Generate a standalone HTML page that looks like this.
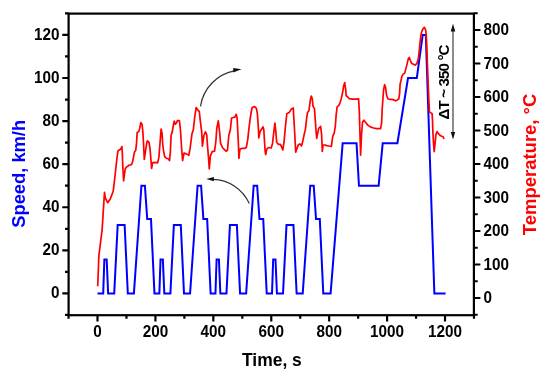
<!DOCTYPE html>
<html><head><meta charset="utf-8"><title>Speed and temperature vs time</title>
<style>
html,body{margin:0;padding:0;background:#fff;}
body{width:550px;height:380px;overflow:hidden;}
svg{display:block;}
text{font-family:"Liberation Sans",Arial,sans-serif;font-weight:bold;}
</style></head>
<body>
<svg width="550" height="380" viewBox="0 0 550 380">
<rect width="550" height="380" fill="#fff"/>
<polyline points="97.5,293.4 100.02,293.4 103.2,293.4 104.36,259.58 106.68,259.58 108.13,293.4 114.21,293.4 117.68,225.12 124.63,225.12 127.82,293.4 133.9,293.4 141.43,185.7 144.9,185.7 147.22,219.09 150.99,219.09 154.46,293.4 156.19,293.4 159.37,293.4 160.53,259.58 162.85,259.58 164.3,293.4 170.38,293.4 173.85,225.12 180.8,225.12 183.99,293.4 190.07,293.4 197.6,185.7 201.08,185.7 203.39,219.09 207.16,219.09 210.63,293.4 212.26,293.4 215.45,293.4 216.6,259.58 218.92,259.58 220.37,293.4 226.45,293.4 229.93,225.12 236.88,225.12 240.06,293.4 246.14,293.4 253.67,185.7 257.15,185.7 259.47,219.09 263.23,219.09 266.71,293.4 268.83,293.4 272.02,293.4 273.18,259.58 275.49,259.58 276.94,293.4 283.02,293.4 286.5,225.12 293.45,225.12 296.63,293.4 302.72,293.4 310.25,185.7 313.72,185.7 316.04,219.09 319.8,219.09 323.28,293.4 325.3,293.4 324.8,293.4 330.6,293.4 342.67,143.27 356.55,143.27 358.97,185.7 378.65,185.7 382.71,143.27 397.39,143.27 408.03,78 416.82,78 422.71,34.92 425.81,34.92 434.35,293.4 445.6,293.4" fill="none" stroke="#0000ff" stroke-width="2" stroke-linejoin="miter" stroke-miterlimit="3"/>
<polyline points="97.7,286.3 98.9,255.3 102.1,230 104.5,192.3 105.3,197.8 107.7,202.7 110.3,199 113.2,191.3 114.6,179.5 116.6,161 117.9,151.2 119.2,149.9 120.6,149.2 121.9,146.6 122.3,153.2 122.8,166.3 123.6,180.8 124.5,174.2 125.2,169 126.5,167 127.8,166.3 129.1,165 130.4,165 131.7,164.3 132.8,161 133.7,155.8 134.6,151.8 135.7,150.5 136.5,143.4 137.2,132.4 138.8,131.6 139.7,128.4 140.8,122.6 142.1,124.5 142.9,132.4 143.5,142.6 144.3,159.5 145.6,150.5 146.9,142 147.4,140.8 149,142.4 150.1,149.5 151,160.6 151.6,168.5 152.6,162.9 154.5,162.4 157.6,162.9 158.9,157.4 160,143.2 161.1,129 162.1,133.7 162.7,144 163.6,151.1 164.7,156.6 166.3,158.2 168.7,159 169.5,160.6 170.3,152.7 171.1,135.3 172.2,132.1 173.4,125 174.2,121.1 175.3,124.2 176.6,122.6 177.4,120.6 179.4,120.7 180.5,130.5 181.7,149.5 182.6,160.6 184,153 186.4,153.9 188.8,155.4 190.1,148.4 192,133.7 193.3,130 194.7,117.1 196.2,107.5 197.5,109.7 199.3,111.6 200.3,120.8 201.7,131.8 202.4,146.2 203.9,135.5 205.4,131.8 206.7,134.6 207.6,146.6 208.5,157.6 209.3,169 210.4,155.8 212.2,151.7 214.6,151.2 215.9,141 216.8,128.1 218.3,120.8 219.6,131.8 220.5,142.9 222.4,147.5 224.2,149.3 226,151.2 227.5,150.2 228.8,135.5 230.3,130 231.6,118 233.4,117.5 234.9,117.1 236.2,114.3 237.1,118 238,135.5 238.6,148.4 238.9,158.5 239.9,149.3 242.3,148.4 244.5,148.4 246.3,147.5 247.8,139.2 249.1,127.2 250.4,117.1 251.2,112 252.2,107.5 254.6,106.6 256.4,108.4 257.4,113.9 258.3,126.8 258.8,137.9 260.1,131.4 261.4,129.6 262.9,126.8 263.8,129.6 264.4,139.7 265.1,150.8 265.7,154.5 266.9,148.9 268.4,147.5 271.2,148 272.5,143.4 273.9,131.4 274.9,123.1 275.8,131.4 276.7,142.5 278.5,144.3 280.4,144.3 281.7,147.1 282.8,149.9 284.1,141.6 285.4,126.8 286.8,113.7 289.1,112.6 291.4,108.9 293.3,108 293.8,118.1 294.6,131 295.7,152.2 297,148.5 298.3,144.9 299.7,143.9 301.6,145.8 303,140.2 304.3,133.8 305.3,130.1 306.7,118.1 307.5,112.6 308.9,110.8 310.4,99.7 311.3,96 312.3,98.8 313,106.2 314.5,108.9 315.4,121.8 315.9,129.2 316.7,138.4 317.8,132.9 318.7,128.3 320,127 320.6,126.3 321.6,134.2 322.3,151.5 323,145 324.9,145 326.9,145.6 328.9,146 331.4,146.4 332.2,140.1 332.8,136.2 334.2,133.2 335.4,125.3 336.2,114.4 337.2,106.6 338.7,105.6 340.1,102.6 341.3,98.7 342.7,91.8 343.7,85.9 344.7,82.5 345.6,88.8 346.2,95.7 347.6,96.7 349.2,98.7 352.6,99.1 356.5,99.1 358.6,98.9 359.3,111.3 360,135 360.6,155.1 361.5,135 362.5,122.2 363.9,120.2 365.9,122.7 367.8,125.1 370.8,127.1 373.7,128 376.7,128.6 380.6,128.6 381.6,123.1 382.2,109.3 383,97.5 383.6,89.6 384.6,84.7 385.6,87.6 386.6,95.5 388.1,99 390.1,99.4 391.8,99.3 393.7,99.9 395.5,100.8 397.4,99.9 398.8,98.9 399.6,93.4 400.1,84.2 401,80.5 402,75.9 403.3,74.1 404.7,73.1 406.2,67.6 407.5,62.1 408.4,58.4 409.3,57.5 410.3,60.3 411.5,63.3 413.3,64.2 415.2,65.1 417,63.3 418.3,58.7 419.2,51.3 420.1,42.1 421,34.7 422,31 423.3,28.3 424.4,27.4 425.7,30.1 426.2,34.7 426.6,42.1 426.9,51.3 427.5,66 428,80.8 428.9,101 429.4,111.6 430.4,112.6 431.5,113.3 432.1,113.7 432.5,120 432.9,132.6 433.6,144.2 434.2,151.6 435.1,143.2 435.9,134.7 437.2,131.6 438.4,133.7 440.5,135.8 443.1,136.8 444.1,139" fill="none" stroke="#ff0000" stroke-width="1.7" stroke-linejoin="round"/>
<g fill="none" stroke="#000" stroke-width="2.2">
<rect x="68.6" y="13.6" width="405.3" height="301.6"/>
<path d="M68.54 315.2V318.8M97.5 315.2V321.5M126.46 315.2V318.8M155.42 315.2V321.5M184.38 315.2V318.8M213.34 315.2V321.5M242.3 315.2V318.8M271.26 315.2V321.5M300.22 315.2V318.8M329.18 315.2V321.5M358.14 315.2V318.8M387.1 315.2V321.5M416.06 315.2V318.8M445.02 315.2V321.5M473.98 315.2V318.8M68.6 314.94H65M68.6 293.4H62.3M68.6 271.86H65M68.6 250.32H62.3M68.6 228.78H65M68.6 207.24H62.3M68.6 185.7H65M68.6 164.16H62.3M68.6 142.62H65M68.6 121.08H62.3M68.6 99.54H65M68.6 78H62.3M68.6 56.46H65M68.6 34.92H62.3M68.6 13.38H65M473.9 314.75H477.7M473.9 298H480.4M473.9 281.25H477.7M473.9 264.5H480.4M473.9 247.75H477.7M473.9 231H480.4M473.9 214.25H477.7M473.9 197.5H480.4M473.9 180.75H477.7M473.9 164H480.4M473.9 147.25H477.7M473.9 130.5H480.4M473.9 113.75H477.7M473.9 97H480.4M473.9 80.25H477.7M473.9 63.5H480.4M473.9 46.75H477.7M473.9 30H480.4M473.9 13.25H477.7"/>
</g>
<g font-size="15.6" fill="#000">
<text x="97.5" y="336.6" text-anchor="middle" textLength="8.51" lengthAdjust="spacingAndGlyphs">0</text>
<text x="155.42" y="336.6" text-anchor="middle" textLength="25.52" lengthAdjust="spacingAndGlyphs">200</text>
<text x="213.34" y="336.6" text-anchor="middle" textLength="25.52" lengthAdjust="spacingAndGlyphs">400</text>
<text x="271.26" y="336.6" text-anchor="middle" textLength="25.52" lengthAdjust="spacingAndGlyphs">600</text>
<text x="329.18" y="336.6" text-anchor="middle" textLength="25.52" lengthAdjust="spacingAndGlyphs">800</text>
<text x="387.1" y="336.6" text-anchor="middle" textLength="34.03" lengthAdjust="spacingAndGlyphs">1000</text>
<text x="445.02" y="336.6" text-anchor="middle" textLength="34.03" lengthAdjust="spacingAndGlyphs">1200</text>
<text x="59.6" y="298.4" text-anchor="end" textLength="8.51" lengthAdjust="spacingAndGlyphs">0</text>
<text x="59.6" y="255.32" text-anchor="end" textLength="17.01" lengthAdjust="spacingAndGlyphs">20</text>
<text x="59.6" y="212.24" text-anchor="end" textLength="17.01" lengthAdjust="spacingAndGlyphs">40</text>
<text x="59.6" y="169.16" text-anchor="end" textLength="17.01" lengthAdjust="spacingAndGlyphs">60</text>
<text x="59.6" y="126.08" text-anchor="end" textLength="17.01" lengthAdjust="spacingAndGlyphs">80</text>
<text x="59.6" y="83" text-anchor="end" textLength="25.52" lengthAdjust="spacingAndGlyphs">100</text>
<text x="59.6" y="39.92" text-anchor="end" textLength="25.52" lengthAdjust="spacingAndGlyphs">120</text>
<text x="483.5" y="303" text-anchor="start" textLength="8.51" lengthAdjust="spacingAndGlyphs">0</text>
<text x="483.5" y="269.5" text-anchor="start" textLength="25.52" lengthAdjust="spacingAndGlyphs">100</text>
<text x="483.5" y="236" text-anchor="start" textLength="25.52" lengthAdjust="spacingAndGlyphs">200</text>
<text x="483.5" y="202.5" text-anchor="start" textLength="25.52" lengthAdjust="spacingAndGlyphs">300</text>
<text x="483.5" y="169" text-anchor="start" textLength="25.52" lengthAdjust="spacingAndGlyphs">400</text>
<text x="483.5" y="135.5" text-anchor="start" textLength="25.52" lengthAdjust="spacingAndGlyphs">500</text>
<text x="483.5" y="102" text-anchor="start" textLength="25.52" lengthAdjust="spacingAndGlyphs">600</text>
<text x="483.5" y="68.5" text-anchor="start" textLength="25.52" lengthAdjust="spacingAndGlyphs">700</text>
<text x="483.5" y="35" text-anchor="start" textLength="25.52" lengthAdjust="spacingAndGlyphs">800</text>
</g>
<text x="271.9" y="365.6" text-anchor="middle" font-size="18" fill="#000" textLength="59.9" lengthAdjust="spacingAndGlyphs">Time, s</text>
<text transform="translate(25.2 173.8) rotate(-90)" text-anchor="middle" font-size="18" fill="#0000ff" textLength="107.8" lengthAdjust="spacingAndGlyphs">Speed, km/h</text>
<text transform="translate(536.1 164.4) rotate(-90)" text-anchor="middle" font-size="18" fill="#ff0000" textLength="141.5" lengthAdjust="spacingAndGlyphs">Temperature, °C</text>
<!-- annotation arrows -->
<path d="M200.5 106.3 A42.4 42.4 0 0 1 234.3 70.9" fill="none" stroke="#333" stroke-width="1.2"/>
<path d="M241.5 69.3 L233.3 68.1 L233.2 72.5 Z" fill="#111"/>
<path d="M249.3 203.6 A40.8 40.8 0 0 0 212.8 179.3" fill="none" stroke="#333" stroke-width="1.2"/>
<path d="M206.2 178.9 L213.9 177.1 L213.9 181.3 Z" fill="#111"/>
<path d="M453 31 V132.5" fill="none" stroke="#808080" stroke-width="1.8"/>
<path d="M453 23.7 L450.7 31.5 L455.3 31.5 Z M453 139.6 L450.8 132 L455.2 132 Z" fill="#111"/>
<text transform="translate(448.5 82) rotate(-90)" text-anchor="middle" font-size="15.2" fill="#000" textLength="75.2" lengthAdjust="spacing">ΔT ~ 350 °C</text>
</svg>
</body></html>
